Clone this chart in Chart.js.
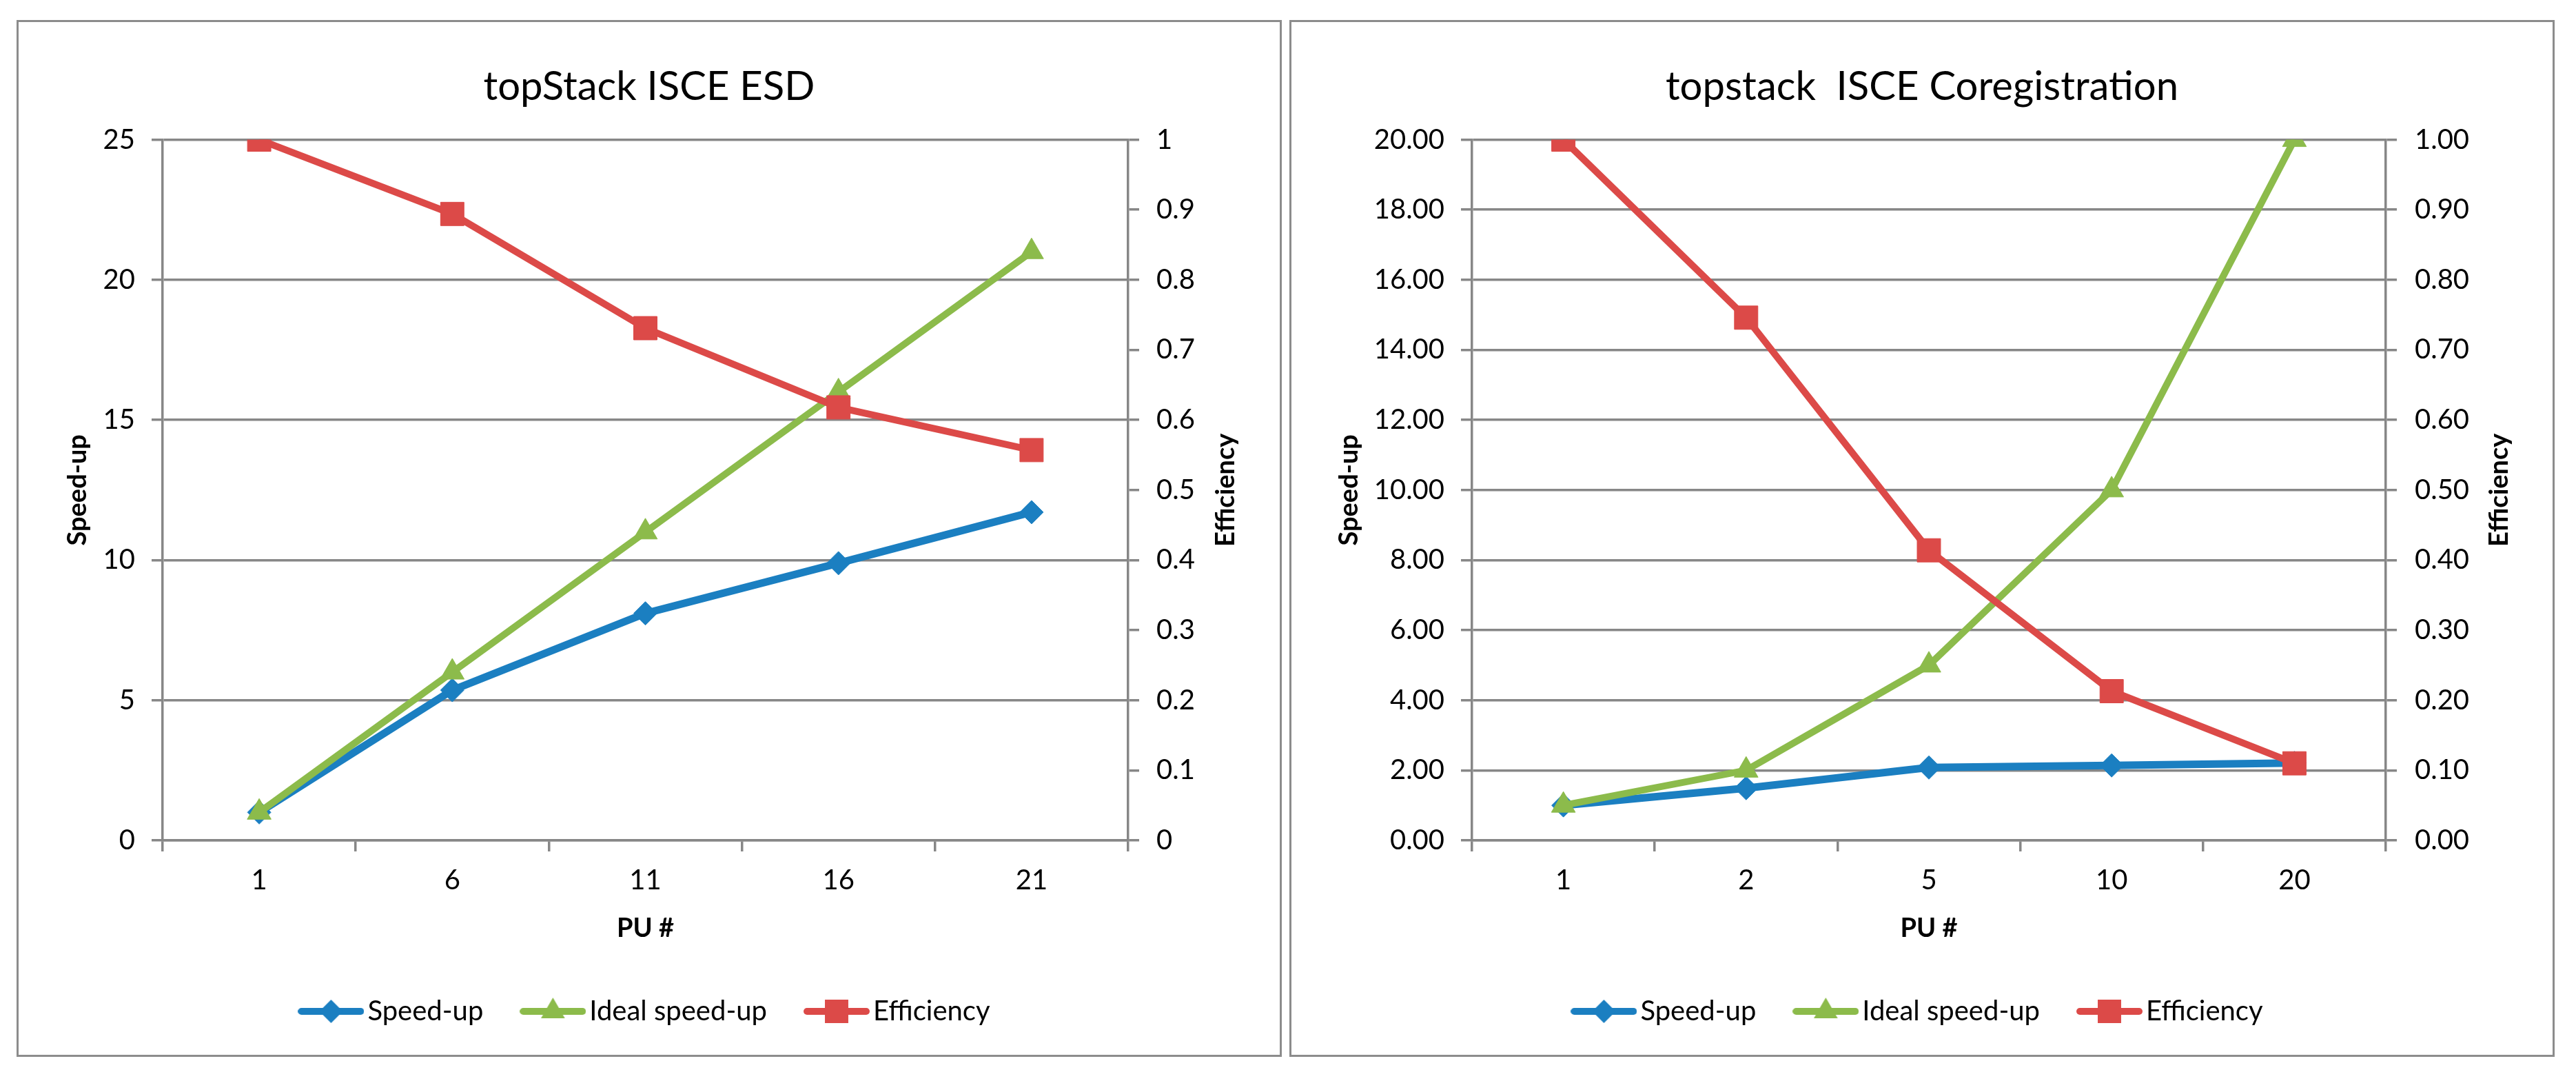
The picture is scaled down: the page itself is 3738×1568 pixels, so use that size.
<!DOCTYPE html>
<html>
<head>
<meta charset="utf-8">
<script src="https://cdn.jsdelivr.net/npm/chart.js@4/dist/chart.umd.min.js"></script>
<style>
html, body { margin: 0; padding: 0; background: #fff; }
body { width: 3738px; height: 1568px; position: relative; overflow: hidden; }
.box { position: absolute; top: 29px; width: 1836px; height: 1504px; box-sizing: border-box; border: 3px solid #8c8c8c; background: #fff; }
.box canvas { display: block; }
</style>
</head>
<body>
<div class="box" style="left:24px"><canvas id="esd" width="1830" height="1498"></canvas></div>
<div class="box" style="left:1871px"><canvas id="coreg" width="1830" height="1498"></canvas></div>
<script>
// left chart: topStack ISCE ESD
const esdPU = ['1', '6', '11', '16', '21'];
const esdSpeedup = [1, 5.36, 8.1, 9.89, 11.71];
const esdIdeal = [1, 6, 11, 16, 21];
const esdEfficiency = [1, 0.894, 0.731, 0.618, 0.557];

// right chart: topstack ISCE Coregistration
const coregPU = ['1', '2', '5', '10', '20'];
const coregSpeedup = [1, 1.49, 2.08, 2.14, 2.21];
const coregIdeal = [1, 2, 5, 10, 20];
const coregEfficiency = [1, 0.746, 0.414, 0.213, 0.11];

const BLUE = '#1b7fc1';
const GREEN = '#8cbb4b';
const RED = '#dc4a48';
const GRID = '#878787';
const FONT = 'Lato';

function legendIcon(color, style, radius) {
  const c = document.createElement('canvas');
  c.width = 96; c.height = 48;
  const g = c.getContext('2d');
  g.strokeStyle = color; g.lineWidth = 10; g.lineCap = 'round';
  g.beginPath(); g.moveTo(5, 24); g.lineTo(91, 24); g.stroke();
  g.fillStyle = color;
  Chart.helpers.drawPoint(g, {pointStyle: style, radius: radius, borderWidth: 0}, 48, 24);
  return c;
}

const icons = [
  legendIcon(BLUE, 'rectRot', 17),
  legendIcon(GREEN, 'triangle', 20),
  legendIcon(RED, 'rect', 24)
];

// Excel writes the right axis title reading upwards, Chart.js turns it the other way
const rightTitle = {
  id: 'rightTitle',
  afterDraw(chart, args, o) {
    const s = chart.scales.y2;
    const ctx = chart.ctx;
    ctx.save();
    ctx.font = 'bold 38px ' + FONT;
    ctx.fillStyle = '#000';
    ctx.textAlign = 'center';
    ctx.textBaseline = 'middle';
    ctx.translate(s.right - o.offset, (s.top + s.bottom) / 2);
    ctx.rotate(-Math.PI / 2);
    ctx.fillText(o.text, 0, 0);
    ctx.restore();
  }
};

function makeChart(id, opt) {
  const tickFont = {family: FONT, size: 40};
  const axisFont = {family: FONT, size: 38, weight: 'bold'};
  return new Chart(document.getElementById(id), {
    type: 'line',
    plugins: [rightTitle],
    data: {
      labels: opt.labels,
      datasets: [
        {label: 'Speed-up', data: opt.speedup, yAxisID: 'y', order: 3,
         borderColor: BLUE, backgroundColor: BLUE, borderWidth: 11,
         pointStyle: 'rectRot', pointRadius: 17, pointBorderWidth: 1, pointBackgroundColor: BLUE},
        {label: 'Ideal speed-up', data: opt.ideal, yAxisID: 'y', order: 2,
         borderColor: GREEN, backgroundColor: GREEN, borderWidth: 10,
         pointStyle: 'triangle', pointRadius: 20, pointBorderWidth: 1, pointBackgroundColor: GREEN},
        {label: 'Efficiency', data: opt.efficiency, yAxisID: 'y2', order: 1,
         borderColor: RED, backgroundColor: RED, borderWidth: 10,
         pointStyle: 'rect', pointRadius: 24, pointBorderWidth: 1, pointBackgroundColor: RED}
      ]
    },
    options: {
      responsive: false,
      devicePixelRatio: 1,
      animation: false,
      layout: {padding: {left: 0, right: 0, top: 0, bottom: 33}},
      elements: {line: {tension: 0, fill: false}},
      plugins: {
        title: {
          display: true, text: opt.title, color: '#000',
          font: {family: FONT, size: 58, weight: 'normal'},
          padding: {top: 59, bottom: 42}
        },
        legend: {
          position: 'bottom',
          labels: {
            usePointStyle: true, pointStyleWidth: 66, padding: 68,
            color: '#000', font: {family: FONT, size: 40},
            generateLabels: chart => chart.data.datasets.map((ds, i) => ({
              text: ds.label, pointStyle: icons[i], fillStyle: ds.borderColor,
              strokeStyle: ds.borderColor, lineWidth: 0, hidden: false,
              datasetIndex: i, fontColor: '#000'
            }))
          }
        },
        tooltip: {enabled: false},
        rightTitle: {text: 'Efficiency', offset: opt.rightTitle}
      },
      scales: {
        x: {
          type: 'category', offset: true,
          grid: {offset: true, drawOnChartArea: false, color: GRID, lineWidth: 3.5, tickLength: 16},
          border: {display: true, color: GRID, width: 3.5},
          ticks: {font: tickFont, color: '#000', padding: 18, maxRotation: 0},
          title: {display: true, text: 'PU #', color: '#000', font: axisFont, padding: {top: 0, bottom: 9}},
          afterFit: s => { s.height = 160; }
        },
        y: {
          position: 'left', min: 0, max: opt.leftMax,
          ticks: {stepSize: opt.leftStep, font: tickFont, color: '#000', padding: opt.leftPad,
                  callback: v => v.toFixed(opt.leftDigits)},
          grid: {color: GRID, lineWidth: 3.5, tickLength: 16},
          border: {display: true, color: GRID, width: 3.5},
          title: {display: true, text: 'Speed-up', color: '#000', font: axisFont, padding: {top: opt.leftTitle, bottom: 0}},
          afterFit: s => { s.width = opt.leftW; }
        },
        y2: {
          position: 'right', min: 0, max: 1,
          ticks: {stepSize: 0.1, font: tickFont, color: '#000', padding: opt.rightPad,
                  callback: opt.rightFmt},
          grid: {drawOnChartArea: false, color: GRID, lineWidth: 3.5, tickLength: 16},
          border: {display: true, color: GRID, width: 3.5},
          title: {display: false},
          afterFit: s => { s.width = opt.rightW; }
        }
      }
    }
  });
}

makeChart('esd', {
  title: 'topStack ISCE ESD',
  labels: esdPU, speedup: esdSpeedup, ideal: esdIdeal, efficiency: esdEfficiency,
  leftMax: 25, leftStep: 5, leftDigits: 0,
  rightFmt: v => String(Math.round(v * 10) / 10),
  leftW: 209, rightW: 220, leftPad: 24, rightPad: 25, leftTitle: 63, rightTitle: 78
});

makeChart('coreg', {
  title: 'topstack  ISCE Coregistration',
  labels: coregPU, speedup: coregSpeedup, ideal: coregIdeal, efficiency: coregEfficiency,
  leftMax: 20, leftStep: 2, leftDigits: 2,
  rightFmt: v => v.toFixed(2),
  leftW: 262, rightW: 242, leftPad: 24, rightPad: 26, leftTitle: 61, rightTitle: 77
});
</script>
</body>
</html>
